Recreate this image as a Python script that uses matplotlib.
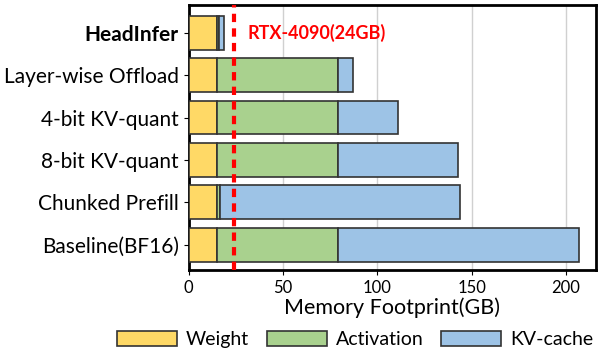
import matplotlib.pyplot as plt
import numpy as np

plt.rcParams['font.family'] = ['Lato', 'DejaVu Sans']

methods = ['Baseline(BF16)', 'Chunked Prefill', '8-bit KV-quant',
           '4-bit KV-quant', 'Layer-wise Offload', 'HeadInfer']
weight = [15, 15, 15, 15, 15, 15]
activation = [64, 1.8, 64, 64, 64, 1.1]
kv_cache = [128, 127, 64, 32, 8, 2.6]
gpu_limit = 24

fig, ax = plt.subplots(figsize=(5.99, 3.53), dpi=100)
y = np.arange(len(methods))
w = np.array(weight)
a = np.array(activation)
k = np.array(kv_cache)

ax.barh(y, w, height=0.8, color='#FFD966', edgecolor='#333333', linewidth=1.2, label='Weight', zorder=3)
ax.barh(y, a, left=w, height=0.8, color='#A9D18E', edgecolor='#333333', linewidth=1.2, label='Activation', zorder=3)
ax.barh(y, k, left=w + a, height=0.8, color='#9DC3E6', edgecolor='#333333', linewidth=1.2, label='KV-cache', zorder=3)

ax.axvline(gpu_limit, color='red', linestyle=(0, (2, 1.5)), linewidth=3, zorder=4)
ax.text(gpu_limit + 7, 5, 'RTX-4090(24GB)', color='red', fontsize=13, fontweight='bold', va='center')

ax.set_yticks(y)
ax.set_yticklabels(methods, fontsize=15)
ax.get_yticklabels()[-1].set_fontweight('bold')
ax.set_xlim(0, 216)
ax.set_ylim(-0.6, 5.65)
ax.set_xticks([0, 50, 100, 150, 200])
ax.tick_params(axis='x', labelsize=12)
ax.set_xlabel('Memory Footprint(GB)', fontsize=15.5, labelpad=1)
ax.grid(axis='x', color='#d0d0d0', linewidth=1, zorder=0)
for s in ax.spines.values():
    s.set_linewidth(2)

fig.legend(loc='lower center', ncol=3, fontsize=14, frameon=False,
           bbox_to_anchor=(0.593, -0.035), handlelength=3.1, handleheight=0.8,
           columnspacing=0.9, handletextpad=0.45)
fig.subplots_adjust(left=0.315, right=0.995, top=0.985, bottom=0.235)
fig.savefig('out.png', dpi=100)
